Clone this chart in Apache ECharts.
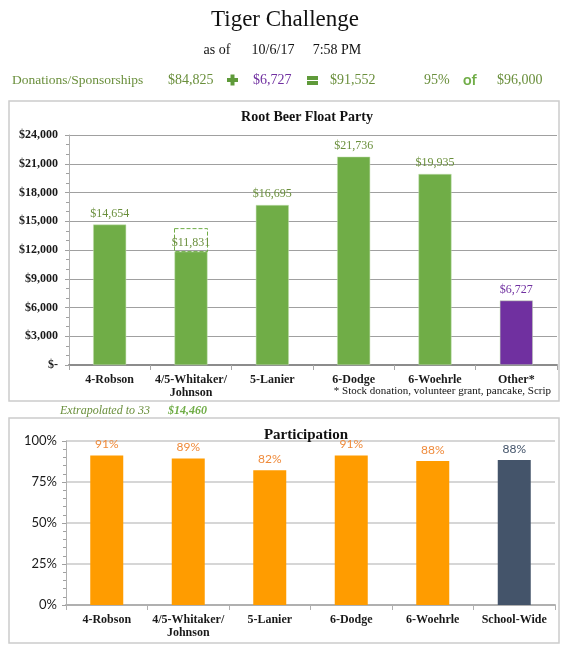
<!DOCTYPE html>
<html>
<head>
<meta charset="utf-8">
<script src="https://cdn.jsdelivr.net/npm/echarts@6/dist/echarts.min.js"></script>
<style>
html,body{margin:0;padding:0;background:#fff;}
#main{width:570px;height:652px;}
</style>
</head>
<body>
<div id="main"></div>
<script>
// ---- data ----
var fundCategories = ['4-Robson', '4/5-Whitaker/\nJohnson', '5-Lanier', '6-Dodge', '6-Woehrle', 'Other*'];
var fundValues = [14654, 11831, 16695, 21736, 19935, 6727];
var partCategories = ['4-Robson', '4/5-Whitaker/\nJohnson', '5-Lanier', '6-Dodge', '6-Woehrle', 'School-Wide'];
var partValues = [0.911, 0.893, 0.821, 0.912, 0.878, 0.884];
var headerTitle = 'Tiger Challenge';
var headerDate = ['as of', '10/6/17', '7:58 PM'];
var summaryValues = ['$84,825', '$6,727', '$91,552', '95%', '$96,000'];
var extrapolated = ['Extrapolated to 33', '$14,460'];
var footnote = '* Stock donation, volunteer grant, pancake, Scrip';

var SERIF = '"Liberation Serif", "DejaVu Serif", serif';
var SANS = 'Lato, "Open Sans", sans-serif';
var OLIVE = '#6a8f3c';
var GREEN = '#70ad47';
var PURPLE = '#7030a0';
var ORANGE = '#ff9c00';
var SLATE = '#44546a';

function money(v) { return v === 0 ? '$-' : '$' + v.toLocaleString('en-US'); }

var fundData = fundValues.map(function (v, i) {
  var item = { value: v };
  if (fundCategories[i] === 'Other*') {
    item.itemStyle = { color: PURPLE };
    item.label = { color: PURPLE };
  }
  if (i === 1) {
    item.label = {
      borderColor: GREEN, borderType: 'dashed', borderWidth: 1,
      width: 33, height: 17, padding: [3, 0, 3, 0], align: 'center',
      overflow: 'none', distance: 0
    };
  }
  return item;
});

var partData = partValues.map(function (v, i) {
  var item = { value: v };
  if (partCategories[i] === 'School-Wide') {
    item.itemStyle = { color: SLATE };
    item.label = { color: SLATE };
  }
  return item;
});

function txt(text, x, y, font, fill, align) {
  return {
    type: 'text', x: x, y: y, silent: true, z: 10,
    style: { text: text, font: font, fill: fill, textAlign: align || 'left', textVerticalAlign: 'middle' }
  };
}

var chart = echarts.init(document.getElementById('main'), null, { renderer: 'canvas' });

var graphics = [
  { type: 'rect', shape: { x: 9, y: 101, width: 550, height: 300 }, style: { fill: 'none', stroke: '#cccccc', lineWidth: 1.5 }, z: 0, silent: true },
  { type: 'rect', shape: { x: 9, y: 418, width: 550, height: 225 }, style: { fill: 'none', stroke: '#cccccc', lineWidth: 1.5 }, z: 0, silent: true },
  txt(headerTitle, 285, 20, '23px ' + SERIF, '#111', 'center'),
  txt(headerDate[0], 217, 50, '14px ' + SERIF, '#111', 'center'),
  txt(headerDate[1], 273, 50, '14px ' + SERIF, '#111', 'center'),
  txt(headerDate[2], 337, 50, '14px ' + SERIF, '#111', 'center'),
  txt('Donations/Sponsorships', 12, 80, '13.5px ' + SERIF, OLIVE, 'left'),
  txt(summaryValues[0], 168, 80, '14px ' + SERIF, OLIVE, 'left'),
  // plus icon
  { type: 'rect', shape: { x: 227, y: 78, width: 11, height: 4 }, style: { fill: '#5f9a3a' }, silent: true },
  { type: 'rect', shape: { x: 230.5, y: 74.5, width: 4, height: 11 }, style: { fill: '#5f9a3a' }, silent: true },
  txt(summaryValues[1], 253, 80, '14px ' + SERIF, PURPLE, 'left'),
  // equals icon
  { type: 'rect', shape: { x: 307, y: 76, width: 11, height: 4 }, style: { fill: '#5f9a3a' }, silent: true },
  { type: 'rect', shape: { x: 307, y: 81, width: 11, height: 4 }, style: { fill: '#5f9a3a' }, silent: true },
  txt(summaryValues[2], 330, 80, '14px ' + SERIF, OLIVE, 'left'),
  txt(summaryValues[3], 424, 80, '14px ' + SERIF, OLIVE, 'left'),
  txt('of', 463, 80, 'bold 15px ' + SANS, GREEN, 'left'),
  txt(summaryValues[4], 497, 80, '14px ' + SERIF, OLIVE, 'left'),
  txt('Root Beer Float Party', 307, 117, 'bold 14px ' + SERIF, '#111', 'center'),
  txt(footnote, 551, 391, '11px ' + SERIF, '#111', 'right'),
  txt(extrapolated[0], 60, 411, 'italic 12px ' + SERIF, OLIVE, 'left'),
  txt(extrapolated[1], 168, 411, 'italic bold 12px ' + SERIF, GREEN, 'left'),
  txt('Participation', 306, 435, 'bold 15px ' + SERIF, '#111', 'center')
];

var option = {
  backgroundColor: '#fff',
  animation: false,
  graphic: graphics,
  grid: [
    { left: 69, right: 13, top: 135, height: 230 },
    { left: 66, right: 15, top: 441, height: 164 }
  ],
  xAxis: [
    {
      type: 'category', gridIndex: 0, data: fundCategories,
      axisLine: { lineStyle: { color: '#8c8c8c', width: 2 } },
      axisTick: { show: true, length: 5, lineStyle: { color: '#a6a6a6' } },
      axisLabel: { color: '#1a1a1a', fontFamily: SERIF, fontWeight: 'bold', fontSize: 12, margin: 8, lineHeight: 13, interval: 0 }
    },
    {
      type: 'category', gridIndex: 1, data: partCategories,
      axisLine: { lineStyle: { color: '#b0b0b0', width: 2 } },
      axisTick: { show: true, length: 5, lineStyle: { color: '#b0b0b0' } },
      axisLabel: { color: '#1a1a1a', fontFamily: SERIF, fontWeight: 'bold', fontSize: 12, margin: 8, lineHeight: 13, interval: 0 }
    }
  ],
  yAxis: [
    {
      type: 'value', gridIndex: 0, min: 0, max: 24000, interval: 3000,
      axisLine: { show: true, lineStyle: { color: '#b0b0b0' } },
      axisTick: { show: true, length: 4, lineStyle: { color: '#a0a0a0' } },
      minorTick: { show: true, splitNumber: 3, length: 3, lineStyle: { color: '#a0a0a0' } },
      splitLine: { lineStyle: { color: '#a0a0a0', width: 1 } },
      axisLabel: { color: '#1a1a1a', fontFamily: SERIF, fontWeight: 'bold', fontSize: 12, margin: 11, formatter: money }
    },
    {
      type: 'value', gridIndex: 1, min: 0, max: 1, interval: 0.25,
      axisLine: { show: true, lineStyle: { color: '#b0b0b0' } },
      axisTick: { show: true, length: 4, lineStyle: { color: '#a0a0a0' } },
      minorTick: { show: true, splitNumber: 5, length: 3, lineStyle: { color: '#a0a0a0' } },
      splitLine: { lineStyle: { color: '#d6d6d6', width: 2 } },
      axisLabel: { color: '#1a1a1a', fontFamily: SANS, fontSize: 13, margin: 9, formatter: function (v) { return Math.round(v * 100) + '%'; } }
    }
  ],
  series: [
    {
      type: 'bar', xAxisIndex: 0, yAxisIndex: 0, data: fundData, barWidth: 33,
      itemStyle: { color: GREEN, borderColor: '#c5e0b4', borderWidth: 0.5 },
      label: { show: true, position: 'top', distance: 5, color: OLIVE, fontFamily: SERIF, fontSize: 12, formatter: function (p) { return money(p.value); } }
    },
    {
      type: 'bar', xAxisIndex: 1, yAxisIndex: 1, data: partData, barWidth: 33,
      itemStyle: { color: ORANGE },
      label: { show: true, position: 'top', distance: 5, color: '#ef8a3a', fontFamily: SANS, fontSize: 12, formatter: function (p) { return Math.round(p.value * 100) + '%'; } }
    }
  ]
};
chart.setOption(option);
</script>
</body>
</html>
